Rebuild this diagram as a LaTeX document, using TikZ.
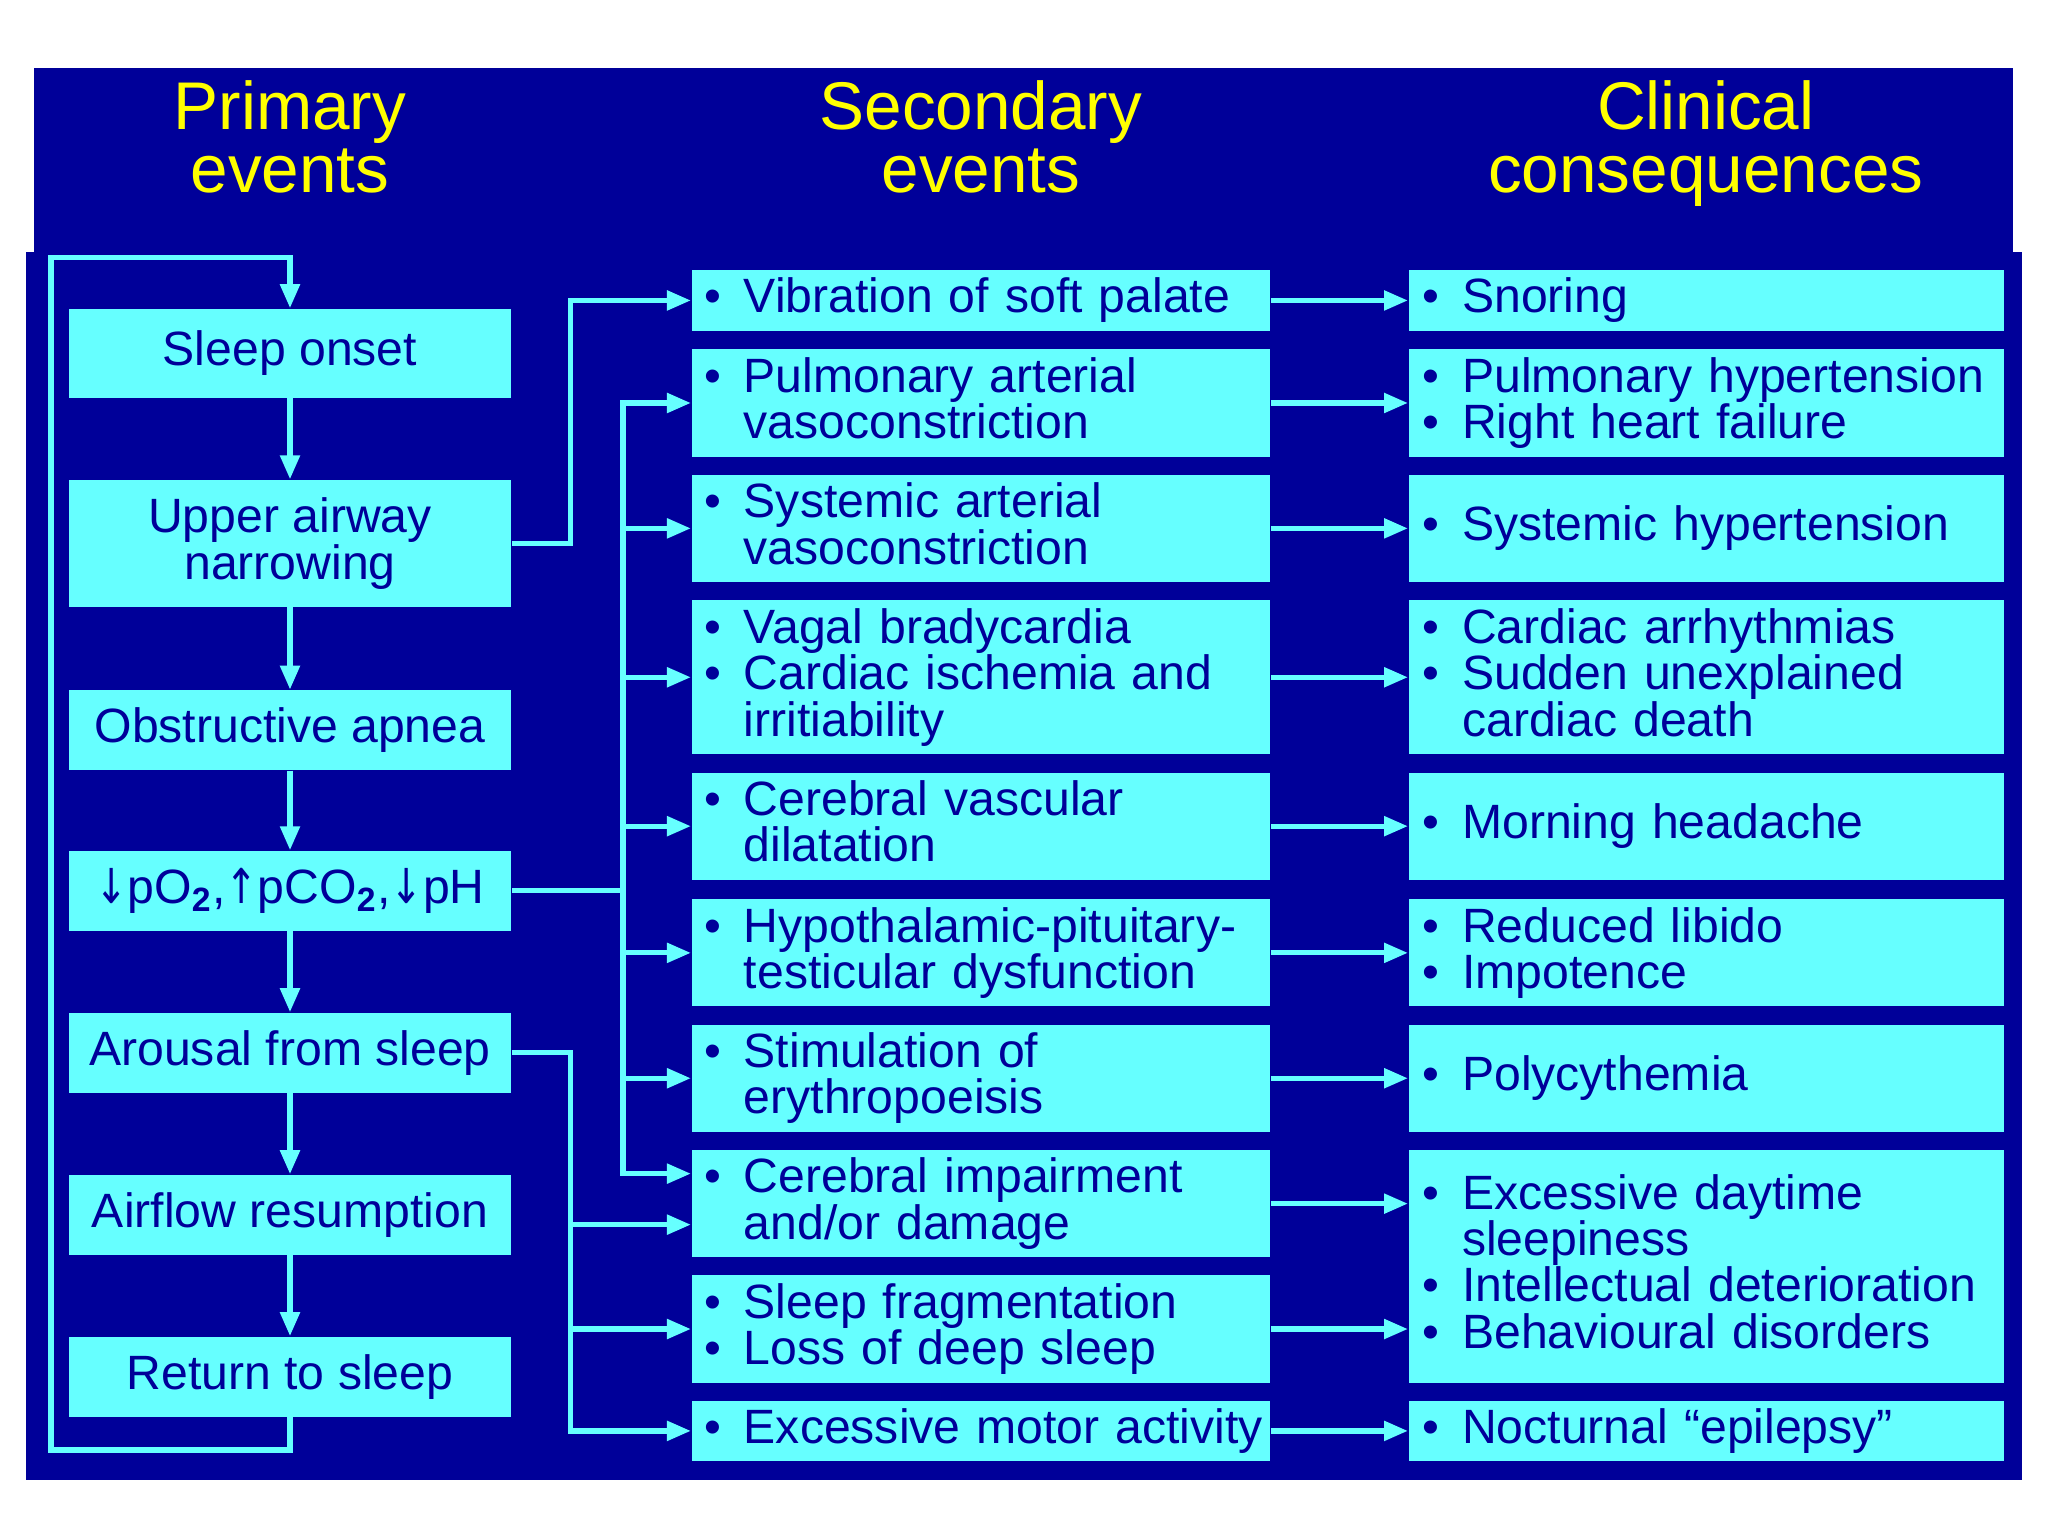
\documentclass[tikz,border=0pt]{standalone}
\usepackage{fontspec}
\setmainfont{Liberation Sans}
\newfontfamily\arrowfont{DejaVu Sans}
\usepackage{graphicx}
\usepackage{xcolor}
\usepackage{tikz}
\usetikzlibrary{arrows.meta}
\definecolor{slidenavy}{HTML}{000099}
\definecolor{boxcyan}{HTML}{66FFFF}
\definecolor{titleyellow}{HTML}{FFFF00}
\newlength\px
\setlength\px{0.01306cm}
\newcommand\bulline[1]{\makebox[0.313cm][l]{\kern-2.4pt\textbullet}\mbox{#1}\vphantom{Ay}}
\newcommand\contline[1]{\hspace*{0.313cm}\mbox{#1}\vphantom{Ay}}
\newcommand\dnarr{{\arrowfont\scalebox{0.8}[1]{↓}}}
\newcommand\uparr{{\arrowfont\scalebox{0.8}[1]{↑}}}

\begin{document}
\begin{tikzpicture}[x=\px, y=-\px,
    every node/.style={inner sep=0pt},
    primbox/.style={fill=boxcyan, text=slidenavy, anchor=north west, align=center,
      minimum width=339*\px, font=\fontsize{13.7}{13.2}\selectfont},
    secbox/.style={fill=boxcyan, text=slidenavy, anchor=north west, align=left,
      text width=5.368cm, inner xsep=0.209cm, font=\fontsize{13.7}{13.2}\selectfont},
    clinbox/.style={fill=boxcyan, text=slidenavy, anchor=north west, align=left,
      text width=5.511cm, inner xsep=0.222cm, font=\fontsize{13.7}{13.2}\selectfont},
    heading/.style={text=titleyellow, align=center, text depth=0pt,
      font=\fontsize{19.2}{17.8}\selectfont},
    link/.style={draw=boxcyan, line width=1.5pt},
    arr/.style={link, -{Triangle[length=2.4mm, width=1.9mm]}}]

  \fill[white] (0,0) rectangle (1568,1176);
  \fill[slidenavy] (26,52) rectangle (1541,193);
  \fill[slidenavy] (20,193) rectangle (1548,1133);

  \node[heading] (hprim) at (222,104.5) {Primary\\events};
  \node[heading] (hsec) at (751,104.5) {Secondary\\events};
  \node[heading] (hclin) at (1306,104.5) {Clinical\\consequences};

  \node[primbox, minimum height=68*\px] (son) at (52,236) {Sleep onset};
  \node[primbox, minimum height=97*\px] (uan) at (52,367) {Upper airway\\narrowing};
  \node[primbox, minimum height=61*\px] (oap) at (52,528) {Obstructive apnea};
  \node[primbox, minimum height=61*\px] (gas) at (52,651)
    {\dnarr pO\textsubscript{\textbf{2}},\uparr pCO\textsubscript{\textbf{2}},\dnarr pH};
  \node[primbox, minimum height=61*\px] (afs) at (52,775) {Arousal from sleep};
  \node[primbox, minimum height=61*\px] (afr) at (52,899) {Airflow resumption};
  \node[primbox, minimum height=61*\px] (rts) at (52,1023) {Return to sleep};

  \node[secbox, minimum height=47*\px] (vsp) at (529,206) {\bulline{Vibration of soft palate}};
  \node[secbox, minimum height=82*\px] (pav) at (529,267)
    {\bulline{Pulmonary arterial}\\\contline{vasoconstriction}};
  \node[secbox, minimum height=82*\px] (sav) at (529,363)
    {\bulline{Systemic arterial}\\\contline{vasoconstriction}};
  \node[secbox, minimum height=118*\px] (vbc) at (529,459)
    {\bulline{Vagal bradycardia}\\\bulline{Cardiac ischemia and}\\\contline{irritiability}};
  \node[secbox, minimum height=82*\px] (cvd) at (529,591)
    {\bulline{Cerebral vascular}\\\contline{dilatation}};
  \node[secbox, minimum height=82*\px] (hpt) at (529,688)
    {\bulline{Hypothalamic-pituitary-}\\\contline{testicular dysfunction}};
  \node[secbox, minimum height=82*\px] (ery) at (529,784)
    {\bulline{Stimulation of}\\\contline{erythropoeisis}};
  \node[secbox, minimum height=82*\px] (cid) at (529,880)
    {\bulline{Cerebral impairment}\\\contline{and/or damage}};
  \node[secbox, minimum height=82*\px] (sfr) at (529,976)
    {\bulline{Sleep fragmentation}\\\bulline{Loss of deep sleep}};
  \node[secbox, minimum height=46*\px] (ema) at (529,1072) {\bulline{Excessive motor activity}};

  \node[clinbox, minimum height=47*\px] (snr) at (1078,206) {\bulline{Snoring}};
  \node[clinbox, minimum height=82*\px] (phy) at (1078,267)
    {\bulline{Pulmonary hypertension}\\\bulline{Right heart failure}};
  \node[clinbox, minimum height=82*\px] (shy) at (1078,363) {\bulline{Systemic hypertension}};
  \node[clinbox, minimum height=118*\px] (car) at (1078,459)
    {\bulline{Cardiac arrhythmias}\\\bulline{Sudden unexplained}\\\contline{cardiac death}};
  \node[clinbox, minimum height=82*\px] (mhd) at (1078,591) {\bulline{Morning headache}};
  \node[clinbox, minimum height=82*\px] (lib) at (1078,688)
    {\bulline{Reduced libido}\\\bulline{Impotence}};
  \node[clinbox, minimum height=82*\px] (pcy) at (1078,784) {\bulline{Polycythemia}};
  \node[clinbox, minimum height=178*\px] (eds) at (1078,880)
    {\bulline{Excessive daytime}\\\contline{sleepiness}\\\bulline{Intellectual deterioration}\\\bulline{Behavioural disorders}};
  \node[clinbox, minimum height=46*\px] (noc) at (1078,1072) {\bulline{Nocturnal “epilepsy”}};

  \foreach \a/\b in {son/uan, uan/oap, oap/gas, gas/afs, afs/afr, afr/rts}
    \draw[arr] (\a.south) -- (\b.north);
  \coordinate (loopc) at (39,197);
  \draw[arr] (rts.south) -- ++(0,25) -| (loopc) -| (son.north);

  \coordinate (gtr) at (477,0);
  \coordinate (atr) at (437,0);
  \draw[arr] (uan.east) -- (uan.east -| atr) |- (vsp.west);
  \foreach \b in {pav,sav,vbc,cvd,hpt,ery}
    \draw[arr] (gas.east) -- (gas.east -| gtr) |- (\b.west);
  \draw[arr] (gas.east) -- (gas.east -| gtr) |- ([yshift=0.3cm]cid.west);
  \draw[arr] (afs.east) -- (afs.east -| atr) |- ([yshift=-0.21cm]cid.west);
  \foreach \b in {sfr,ema}
    \draw[arr] (afs.east) -- (afs.east -| atr) |- (\b.west);

  \foreach \a/\b in {vsp/snr, pav/phy, sav/shy, vbc/car, cvd/mhd, hpt/lib, ery/pcy, ema/noc}
    \draw[arr] (\a.east) -- (\b.west);
  \foreach \a in {cid,sfr}
    \draw[arr] (\a.east) -- (\a.east -| eds.west);
\end{tikzpicture}
\end{document}
